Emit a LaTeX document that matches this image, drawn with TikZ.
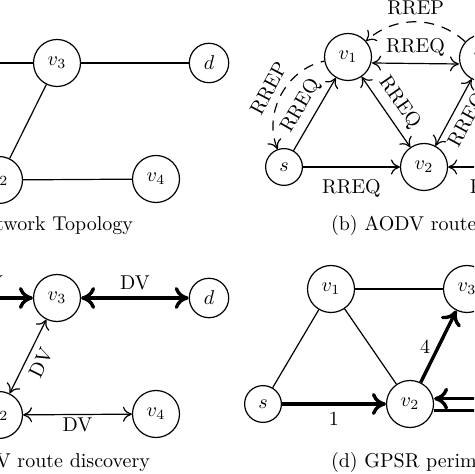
\documentclass[tikz,border=0pt]{standalone}
\usetikzlibrary{calc,arrows.meta}
\tikzset{
  nd/.style={circle, draw, line width=0.6pt, inner sep=0pt},
  vn/.style={nd, minimum size=23.5pt},
  sn/.style={nd, minimum size=18.4pt},
  dn/.style={nd, minimum size=19.7pt},
  ln/.style={line width=0.6pt},
  thintip/.style={>={To[length=4.5pt,width=7.5pt]}},
  thicktip/.style={>={To[length=7pt,width=11pt]}},
  ar/.style={line width=0.6pt, thintip, ->},
  dar/.style={line width=0.6pt, thintip, <->},
  tk/.style={line width=1.7pt, thicktip, ->},
  tkd/.style={line width=1.7pt, thicktip, <->},
  rdash/.style={line width=0.6pt, thintip, dash pattern=on 5pt off 4pt},
}
\begin{document}
\begin{tikzpicture}[x=0.5pt,y=-0.5pt]
\useasboundingbox (0,0) rectangle (474,474);
\clip (0,0) rectangle (474,474);

% (a)
\coordinate (a1) at (-55,63);
\node[vn] (a3) at (57,63) {$v_3$};
\node[dn] (ad) at (209,63) {$d$};
\node[vn] (a2) at (-1,180) {$v_2$};
\node[vn] (a4) at (156,179) {$v_4$};
\draw[ln] (a1) -- (a3);
\draw[ln] (a3) -- (ad);
\draw[ln] (a3) -- (a2);
\draw[ln] (a2) -- (a4);
\node[anchor=base east] (capa) at (140,231) {(a) Network Topology};

% (b)
\node[sn] (bs) at (284,167) {$s$};
\node[vn] (b1) at (348,57) {$v_1$};
\node[vn] (b2) at (424,167) {$v_2$};
\node[vn] (b3) at (483,58) {$v_3$};
\coordinate (b4) at (550,167);
\draw[ar] (bs) -- node[sloped,above] {RREQ} (b1);
\draw[ar] (bs) -- node[below,yshift=-2.5pt] {RREQ} (b2);
\draw[dar] (b1) -- node[sloped,above] {RREQ} (b2);
\draw[dar] ([yshift=-3pt]b1.east) -- node[above] {RREQ} ([yshift=-3pt]b3.west);
\draw[dar] (b2) -- node[sloped,below] {RREQ} (b3);
\draw[ar] (b4) -- node[below,yshift=-2.5pt] {RREQ} (b2);
\draw[rdash,->] (b3) to[bend right=42] node[above] {RREP} (b1);
\draw[rdash,<-] (bs) to[bend left=50] node[sloped,above] {RREP} (b1);
\node[anchor=base west] (capb) at (324,231) {(b) AODV route discovery};

% (c)
\coordinate (c1) at (-57,298);
\node[vn] (c3) at (57,298) {$v_3$};
\node[dn] (cd) at (209,298) {$d$};
\node[vn] (c2) at (-1,415) {$v_2$};
\node[vn] (c4) at (156,414) {$v_4$};
\draw[tk] (c1) -- node[above] {DV} (c3);
\draw[tkd] (c3) -- node[above] {DV} (cd);
\draw[dar] (c2) -- node[sloped,below] {DV} (c3);
\draw[dar] (c2) -- node[below,inner sep=1.5pt] {DV} (c4);
\node[anchor=base east] (capc) at (157,467) {(c) DSDV route discovery};

% (d)
\node[vn] (d1) at (331,289) {$v_1$};
\node[vn] (d3) at (467,289) {$v_3$};
\node[sn] (ds) at (263,404) {$s$};
\node[vn] (d2) at (410,404) {$v_2$};
\coordinate (d4) at (560,404);
\draw[ln] (d1) -- (d3);
\draw[ln] (d1) -- (ds);
\draw[ln] (d1) -- (d2);
\draw[tk] (ds) -- node[below] {1} (d2);
\draw[tk] (d2) -- node[left] {4} (d3);
\draw[tk] ([yshift=2.65pt]d4) -- ([yshift=2.65pt]d2.east);
\draw[tk] ([yshift=-3.15pt]d2.east) -- ([yshift=-3.15pt]d4);
\node[anchor=base west] (capd) at (324,467) {(d) GPSR perimeter mode};
\end{tikzpicture}
\end{document}
